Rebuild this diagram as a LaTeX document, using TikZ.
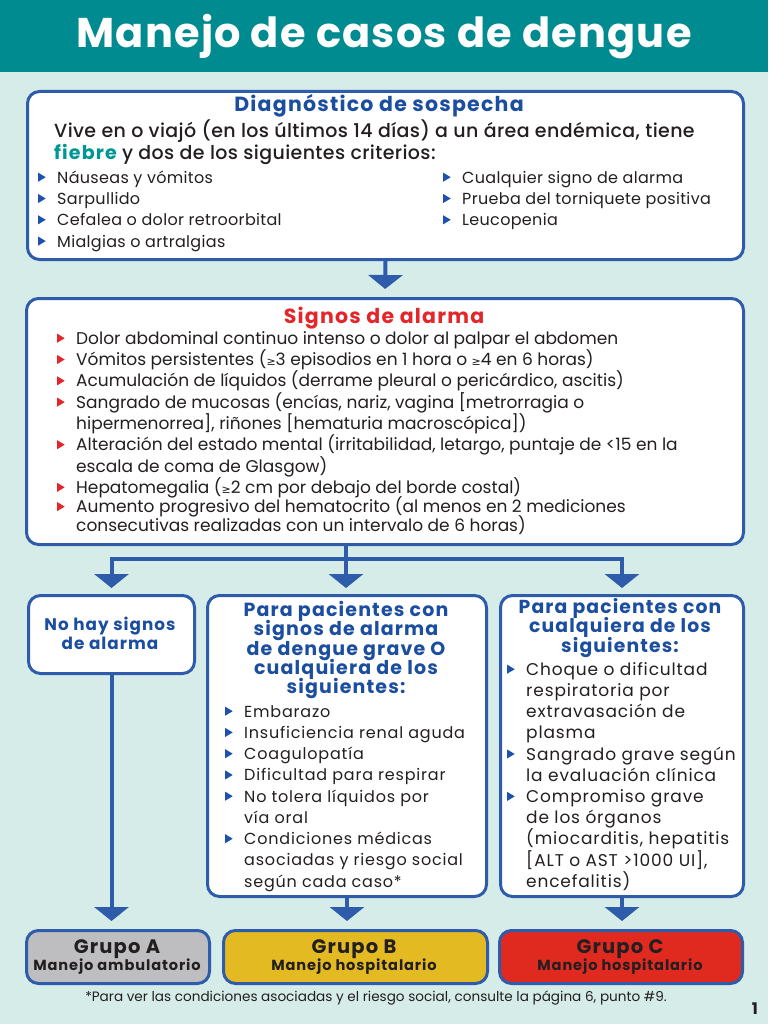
\documentclass[tikz,border=0pt]{standalone}
\usepackage{fontspec}
\usetikzlibrary{arrows.meta}
\setmainfont{Poppins}[BoldFont={Poppins SemiBold}]
\newfontfamily\popmed{Poppins Medium}[LetterSpace=2]
\newfontfamily\popsb{Poppins SemiBold}[LetterSpace=2]
\newfontfamily\hb{Poppins Bold}[LetterSpace=6]
\newfontfamily\hbt{Poppins Bold}[LetterSpace=3]
\newfontfamily\bodyA{Poppins}[LetterSpace=2]
\newfontfamily\bodyB{Poppins}[LetterSpace=5]
\newfontfamily\dejavu{DejaVu Sans}
\lineskiplimit=-20pt
\definecolor{hdrteal}{RGB}{0,139,144}
\definecolor{bgmint}{RGB}{213,236,232}
\definecolor{bordblue}{RGB}{46,92,170}
\definecolor{headblue}{RGB}{28,78,160}
\definecolor{alarmred}{RGB}{228,38,42}
\definecolor{txtdark}{RGB}{35,31,32}
\definecolor{fiebreteal}{RGB}{0,150,150}
\definecolor{bulblue}{RGB}{30,80,175}
\definecolor{grpgray}{RGB}{190,190,192}
\definecolor{grpgold}{RGB}{228,186,34}
\definecolor{grpred}{RGB}{224,42,32}
\newcommand\topstrut{\rule{0pt}{16pt}}
\newcommand\bul[1]{\makebox[19pt][l]{\tikz[baseline=0pt]\fill[#1](0pt,1.5pt)--(0pt,10.5pt)--(7.5pt,6pt)--cycle;}}
\newcommand\cont{\hspace*{19pt}}
\newcommand\gesym{{\dejavu\fontsize{11}{11}\selectfont ≥}}
\tikzset{
  box/.style={draw=bordblue, line width=3pt, rounded corners=12pt, fill=white, inner sep=0pt, anchor=north west},
  gbox/.style={draw=bordblue, line width=3pt, rounded corners=12pt, inner sep=0pt, anchor=north west},
  conn/.style={draw=bordblue, line width=4pt, -{Triangle[width=34pt,length=14pt]}},
  ln/.style={draw=bordblue, line width=4pt},
  txt/.style={inner sep=0pt, anchor=north west, align=left, text=txtdark},
  ctitle/.style={inner sep=0pt, anchor=north, align=center, text=headblue},
  btitle/.style={inner sep=0pt, anchor=base, text=txtdark}
}
\begin{document}
\begin{tikzpicture}[x=1pt,y=-1pt]
\useasboundingbox (0,0) rectangle (768,1024);
\fill[bgmint] (0,0) rectangle (768,1024);
\fill[hdrteal] (0,0) rectangle (768,72);
\node[anchor=base, inner sep=0pt, text=white, font=\hbt\fontsize{41.5}{42}\selectfont] (title) at (384,48) {Manejo de casos de dengue};

% box 1
\node[box, minimum width=716pt, minimum height=168pt] (diag) at (26,90) {};
\node[anchor=base, inner sep=0pt, text=headblue, font=\hb\fontsize{20.5}{22}\selectfont] (diagT) at (379,112) {Diagnóstico de sospecha};
\node[txt, font=\popmed\fontsize{19}{22}\selectfont] (diagI) at (54,136-16) {\topstrut Vive en o viajó (en los últimos 14 días) a un área endémica, tiene\\
\textcolor{fiebreteal}{\hb fiebre} y dos de los siguientes criterios:};
\node[txt, font=\bodyA\fontsize{16}{21.3}\selectfont] (diagL) at (38,183-16) {\topstrut\bul{bulblue}Náuseas y vómitos\\
\bul{bulblue}Sarpullido\\
\bul{bulblue}Cefalea o dolor retroorbital\\
\bul{bulblue}Mialgias o artralgias};
\node[txt, font=\bodyA\fontsize{16}{21.3}\selectfont] (diagR) at (443,183-16) {\topstrut\bul{bulblue}Cualquier signo de alarma\\
\bul{bulblue}Prueba del torniquete positiva\\
\bul{bulblue}Leucopenia};

% box 2
\node[box, minimum width=717pt, minimum height=246pt] (alarm) at (25,297) {};
\node[anchor=base, inner sep=0pt, text=alarmred, font=\hb\fontsize{20.5}{22}\selectfont] (alarmT) at (384,323) {Signos de alarma};
\node[txt, font=\fontsize{17}{21.3}\selectfont] (alarmI) at (57,344-16) {\topstrut\bul{alarmred}Dolor abdominal continuo intenso o dolor al palpar el abdomen\\
\bul{alarmred}Vómitos persistentes (\gesym3 episodios en 1 hora o \gesym4 en 6 horas)\\
\bul{alarmred}Acumulación de líquidos (derrame pleural o pericárdico, ascitis)\\
\bul{alarmred}Sangrado de mucosas (encías, nariz, vagina [metrorragia o\\
\cont hipermenorrea], riñones [hematuria macroscópica])\\
\bul{alarmred}Alteración del estado mental (irritabilidad, letargo, puntaje de <15 en la\\
\cont escala de coma de Glasgow)\\
\bul{alarmred}Hepatomegalia (\gesym2 cm por debajo del borde costal)\\[-2pt]
\bul{alarmred}Aumento progresivo del hematocrito (al menos en 2 mediciones\\[-2pt]
\cont consecutivas realizadas con un intervalo de 6 horas)};

% middle boxes
\node[box, minimum width=166pt, minimum height=78pt] (noalarm) at (27,594) {};
\node[ctitle, font=\hb\fontsize{16.8}{19}\selectfont] (noalarmT) at (110,630-16) {\topstrut No hay signos\\de alarma};

\node[box, minimum width=279pt, minimum height=301pt] (grave) at (206,594) {};
\node[ctitle, font=\hb\fontsize{19}{19.4}\selectfont] (graveT) at (346,616-16) {\topstrut Para pacientes con\\signos de alarma\\de dengue grave O\\cualquiera de los\\siguientes:};
\node[txt, font=\bodyB\fontsize{16}{21.25}\selectfont] (graveI) at (225,717-16) {\topstrut\bul{bulblue}Embarazo\\
\bul{bulblue}Insuficiencia renal aguda\\
\bul{bulblue}Coagulopatía\\
\bul{bulblue}Dificultad para respirar\\
\bul{bulblue}No tolera líquidos por\\
\cont vía oral\\
\bul{bulblue}Condiciones médicas\\
\cont asociadas y riesgo social\\
\cont según cada caso*};

\node[box, minimum width=243pt, minimum height=301pt] (severe) at (499,594) {};
\node[ctitle, font=\hb\fontsize{18.8}{19.5}\selectfont] (severeT) at (620,613-16) {\topstrut Para pacientes con\\cualquiera de los\\siguientes:};
\node[txt, font=\bodyB\fontsize{17}{21.2}\selectfont] (severeI) at (507,675-16) {\topstrut\bul{bulblue}Choque o dificultad\\
\cont respiratoria por\\
\cont extravasación de\\
\cont plasma\\
\bul{bulblue}Sangrado grave según\\
\cont la evaluación clínica\\
\bul{bulblue}Compromiso grave\\
\cont de los órganos\\
\cont (miocarditis, hepatitis\\
\cont [ALT o AST >1000 UI],\\
\cont encefalitis)};

% groups
\node[gbox, fill=grpgray, minimum width=183pt, minimum height=53pt] (gA) at (25,929) {};
\node[gbox, fill=grpgold, minimum width=264pt, minimum height=53pt] (gB) at (222,929) {};
\node[gbox, fill=grpred, minimum width=243pt, minimum height=53pt] (gC) at (498,929) {};
\node[btitle, font=\hb\fontsize{19.5}{20}\selectfont] (gAt) at (117,953) {Grupo A};
\node[btitle, font=\hb\fontsize{14.6}{17}\selectfont] (gAs) at (117,970) {Manejo ambulatorio};
\node[btitle, font=\hb\fontsize{19.5}{20}\selectfont] (gBt) at (354,953) {Grupo B};
\node[btitle, font=\hb\fontsize{14.6}{17}\selectfont] (gBs) at (354,970) {Manejo hospitalario};
\node[btitle, font=\hb\fontsize{19.5}{20}\selectfont] (gCt) at (620,953) {Grupo C};
\node[btitle, font=\hb\fontsize{14.6}{17}\selectfont] (gCs) at (620,970) {Manejo hospitalario};

% connectors
\draw[conn, shorten >=8pt] (diag.south) -- (alarm.north);
\coordinate (fork) at (346,559);
\draw[ln] (alarm.south -| fork) -- (fork);
\draw[conn, shorten >=6pt] (fork) -| (noalarm.north);
\draw[conn, shorten >=6pt] (fork) -- (fork |- grave.north);
\draw[conn, shorten >=6pt] (fork) -| (severe.north);
\draw[conn, shorten >=8pt] (noalarm.south) -- (noalarm.south |- gA.north);
\draw[conn, shorten >=8pt] (grave.south) -- (grave.south |- gB.north);
\draw[conn, shorten >=8pt] (severe.south) -- (severe.south |- gC.north);

% footer
\node[btitle, font=\fontsize{13.6}{15}\selectfont] (foot) at (376,1001) {*Para ver las condiciones asociadas y el riesgo social, consulte la página 6, punto \#9.};
\node[anchor=base east, inner sep=0pt, text=txtdark, font=\hb\fontsize{16}{18}\selectfont] (pg) at (758,1014) {1};
\end{tikzpicture}
\end{document}
